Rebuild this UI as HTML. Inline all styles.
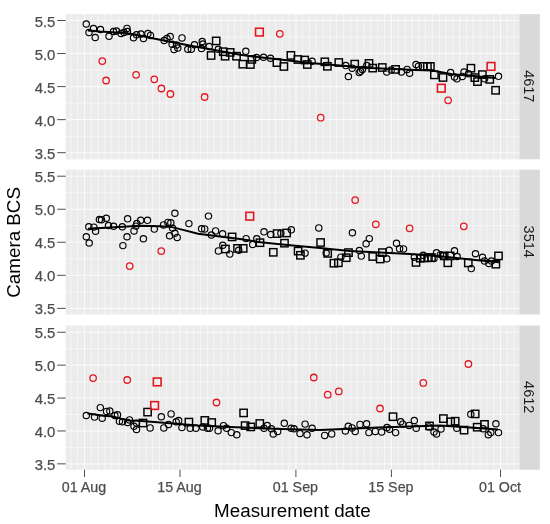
<!DOCTYPE html>
<html><head><meta charset="utf-8"><title>Camera BCS</title>
<style>html,body{margin:0;padding:0;background:#fff}svg{display:block}text{font-family:"Liberation Sans",Arial,sans-serif}</style></head>
<body>
<svg width="550" height="524" viewBox="0 0 550 524">
<rect width="550" height="524" fill="#fff"/>
<g>
<rect x="65.7" y="14.1" width="453.7" height="145.2" fill="#ebebeb"/>
<path d="M70.86 14.1V159.3M77.68 14.1V159.3M91.32 14.1V159.3M98.14 14.1V159.3M104.96 14.1V159.3M111.78 14.1V159.3M118.60 14.1V159.3M125.42 14.1V159.3M132.24 14.1V159.3M139.06 14.1V159.3M145.88 14.1V159.3M152.70 14.1V159.3M159.52 14.1V159.3M166.34 14.1V159.3M173.16 14.1V159.3M186.80 14.1V159.3M193.62 14.1V159.3M200.44 14.1V159.3M207.26 14.1V159.3M214.08 14.1V159.3M220.90 14.1V159.3M227.72 14.1V159.3M234.54 14.1V159.3M241.36 14.1V159.3M248.18 14.1V159.3M255.00 14.1V159.3M261.82 14.1V159.3M268.64 14.1V159.3M275.46 14.1V159.3M282.28 14.1V159.3M289.10 14.1V159.3M302.74 14.1V159.3M309.56 14.1V159.3M316.38 14.1V159.3M323.20 14.1V159.3M330.02 14.1V159.3M336.84 14.1V159.3M343.66 14.1V159.3M350.48 14.1V159.3M357.30 14.1V159.3M364.12 14.1V159.3M370.94 14.1V159.3M377.76 14.1V159.3M384.58 14.1V159.3M398.22 14.1V159.3M405.04 14.1V159.3M411.86 14.1V159.3M418.68 14.1V159.3M425.50 14.1V159.3M432.32 14.1V159.3M439.14 14.1V159.3M445.96 14.1V159.3M452.78 14.1V159.3M459.60 14.1V159.3M466.42 14.1V159.3M473.24 14.1V159.3M480.06 14.1V159.3M486.88 14.1V159.3M493.70 14.1V159.3M507.34 14.1V159.3M514.16 14.1V159.3M65.7 37.02H519.4M65.7 70.07H519.4M65.7 103.12H519.4M65.7 136.17H519.4" stroke="#fff" stroke-width="0.9" stroke-opacity="0.6" fill="none"/>
<path d="M84.50 14.1V159.3M179.98 14.1V159.3M295.92 14.1V159.3M391.40 14.1V159.3M500.52 14.1V159.3M65.7 20.50H519.4M65.7 53.55H519.4M65.7 86.60H519.4M65.7 119.65H519.4M65.7 152.70H519.4" stroke="#fff" stroke-width="1.1" stroke-opacity="0.72" fill="none"/>
<g fill="none" stroke="#000" stroke-width="1.15"><circle cx="86.3" cy="24.0" r="3.15"/><circle cx="89.0" cy="32.5" r="3.15"/><circle cx="93.5" cy="28.5" r="3.15"/><circle cx="95.2" cy="37.5" r="3.15"/><circle cx="100.5" cy="29.5" r="3.15"/><circle cx="109.0" cy="36.3" r="3.15"/><circle cx="113.5" cy="31.5" r="3.15"/><circle cx="116.5" cy="31.0" r="3.15"/><circle cx="121.0" cy="33.5" r="3.15"/><circle cx="124.0" cy="32.5" r="3.15"/><circle cx="127.0" cy="28.4" r="3.15"/><circle cx="127.4" cy="31.5" r="3.15"/><circle cx="133.5" cy="37.8" r="3.15"/><circle cx="136.5" cy="34.7" r="3.15"/><circle cx="140.9" cy="34.1" r="3.15"/><circle cx="143.5" cy="38.5" r="3.15"/><circle cx="147.9" cy="33.6" r="3.15"/><circle cx="150.5" cy="35.4" r="3.15"/><circle cx="164.2" cy="40.5" r="3.15"/><circle cx="167.0" cy="38.5" r="3.15"/><circle cx="170.2" cy="36.6" r="3.15"/><circle cx="172.1" cy="44.3" r="3.15"/><circle cx="174.0" cy="49.4" r="3.15"/><circle cx="176.5" cy="44.9" r="3.15"/><circle cx="177.8" cy="48.1" r="3.15"/><circle cx="182.0" cy="37.9" r="3.15"/><circle cx="187.8" cy="49.3" r="3.15"/><circle cx="191.3" cy="49.3" r="3.15"/><circle cx="194.5" cy="44.8" r="3.15"/><circle cx="202.2" cy="41.5" r="3.15"/><circle cx="201.5" cy="48.5" r="3.15"/><circle cx="202.8" cy="44.0" r="3.15"/><circle cx="209.2" cy="46.6" r="3.15"/><circle cx="218.3" cy="49.2" r="3.15"/><circle cx="245.8" cy="51.3" r="3.15"/><circle cx="256.5" cy="57.5" r="3.15"/><circle cx="263.5" cy="57.2" r="3.15"/><circle cx="270.5" cy="58.2" r="3.15"/><circle cx="312.1" cy="61.2" r="3.15"/><circle cx="345.8" cy="65.6" r="3.15"/><circle cx="348.4" cy="76.5" r="3.15"/><circle cx="352.2" cy="68.2" r="3.15"/><circle cx="359.2" cy="72.6" r="3.15"/><circle cx="362.4" cy="69.5" r="3.15"/><circle cx="366.8" cy="65.6" r="3.15"/><circle cx="360.6" cy="71.3" r="3.15"/><circle cx="386.7" cy="71.9" r="3.15"/><circle cx="391.2" cy="70.0" r="3.15"/><circle cx="401.4" cy="71.9" r="3.15"/><circle cx="407.1" cy="69.4" r="3.15"/><circle cx="409.6" cy="73.2" r="3.15"/><circle cx="416.0" cy="64.5" r="3.15"/><circle cx="418.5" cy="66.2" r="3.15"/><circle cx="450.6" cy="72.5" r="3.15"/><circle cx="454.5" cy="76.9" r="3.15"/><circle cx="457.0" cy="78.8" r="3.15"/><circle cx="462.3" cy="76.4" r="3.15"/><circle cx="464.0" cy="72.0" r="3.15"/><circle cx="468.5" cy="73.7" r="3.15"/><circle cx="484.6" cy="78.8" r="3.15"/><circle cx="498.5" cy="76.3" r="3.15"/></g><g fill="none" stroke="#000" stroke-width="1.45"><rect x="212.55" y="37.25" width="7.3" height="7.3"/><rect x="207.45" y="51.85" width="7.3" height="7.3"/><rect x="219.55" y="48.05" width="7.3" height="7.3"/><rect x="221.45" y="52.55" width="7.3" height="7.3"/><rect x="226.55" y="48.75" width="7.3" height="7.3"/><rect x="232.85" y="52.55" width="7.3" height="7.3"/><rect x="239.15" y="60.55" width="7.3" height="7.3"/><rect x="246.75" y="60.85" width="7.3" height="7.3"/><rect x="248.15" y="55.75" width="7.3" height="7.3"/><rect x="273.25" y="58.95" width="7.3" height="7.3"/><rect x="280.25" y="62.85" width="7.3" height="7.3"/><rect x="287.25" y="51.75" width="7.3" height="7.3"/><rect x="294.25" y="55.85" width="7.3" height="7.3"/><rect x="301.05" y="56.35" width="7.3" height="7.3"/><rect x="303.65" y="60.85" width="7.3" height="7.3"/><rect x="321.15" y="58.15" width="7.3" height="7.3"/><rect x="323.75" y="62.65" width="7.3" height="7.3"/><rect x="335.15" y="58.85" width="7.3" height="7.3"/><rect x="351.05" y="60.45" width="7.3" height="7.3"/><rect x="365.35" y="59.75" width="7.3" height="7.3"/><rect x="369.05" y="64.45" width="7.3" height="7.3"/><rect x="378.65" y="63.85" width="7.3" height="7.3"/><rect x="391.95" y="65.75" width="7.3" height="7.3"/><rect x="419.75" y="62.75" width="7.3" height="7.3"/><rect x="423.75" y="62.75" width="7.3" height="7.3"/><rect x="426.75" y="62.75" width="7.3" height="7.3"/><rect x="430.75" y="71.25" width="7.3" height="7.3"/><rect x="439.35" y="73.85" width="7.3" height="7.3"/><rect x="467.25" y="64.55" width="7.3" height="7.3"/><rect x="471.15" y="73.95" width="7.3" height="7.3"/><rect x="473.85" y="77.95" width="7.3" height="7.3"/><rect x="478.75" y="70.95" width="7.3" height="7.3"/><rect x="486.15" y="75.75" width="7.3" height="7.3"/><rect x="491.95" y="86.65" width="7.3" height="7.3"/></g>
<g fill="none" stroke="#e3171f" stroke-width="1.2799999999999998"><circle cx="102.3" cy="61.1" r="3.25"/><circle cx="106.1" cy="80.5" r="3.25"/><circle cx="136.1" cy="74.8" r="3.25"/><circle cx="154.3" cy="79.3" r="3.25"/><circle cx="161.4" cy="88.5" r="3.25"/><circle cx="170.4" cy="94.0" r="3.25"/><circle cx="204.6" cy="97.0" r="3.25"/><circle cx="279.8" cy="33.8" r="3.25"/><circle cx="320.7" cy="117.7" r="3.25"/><circle cx="448.1" cy="100.3" r="3.25"/></g><g fill="none" stroke="#e3171f" stroke-width="1.5999999999999999"><rect x="255.55" y="28.25" width="7.7" height="7.7"/><rect x="437.45" y="84.35" width="7.7" height="7.7"/><rect x="487.15" y="62.55" width="7.7" height="7.7"/></g>
<polyline fill="none" stroke="#000" stroke-width="2.0" stroke-linejoin="round" points="88,30.5 100,31.5 125,33.0 135,34.6 150,37.8 170,41.8 195,46.5 220,51 240,54.8 255,56.8 280,59.6 310,63 340,65.6 370,68 400,69.3 415,69.9 432,70.4 443,72.6 452,74.3 461,74.9 470,75.6 483,76.9 495.6,78.1"/>
<rect x="519.4" y="14.1" width="20.4" height="145.2" fill="#d9d9d9"/>
<text transform="translate(523.7,86.3) rotate(90)" text-anchor="middle" font-size="14.5" fill="#1a1a1a">4617</text>
<text x="55.4" y="26.5" text-anchor="end" font-size="14.9" fill="#4d4d4d" stroke="#4d4d4d" stroke-width="0.25">5.5</text>
<text x="55.4" y="59.5" text-anchor="end" font-size="14.9" fill="#4d4d4d" stroke="#4d4d4d" stroke-width="0.25">5.0</text>
<text x="55.4" y="92.6" text-anchor="end" font-size="14.9" fill="#4d4d4d" stroke="#4d4d4d" stroke-width="0.25">4.5</text>
<text x="55.4" y="125.6" text-anchor="end" font-size="14.9" fill="#4d4d4d" stroke="#4d4d4d" stroke-width="0.25">4.0</text>
<text x="55.4" y="158.7" text-anchor="end" font-size="14.9" fill="#4d4d4d" stroke="#4d4d4d" stroke-width="0.25">3.5</text>
<path d="M57.2 20.50H65.7M57.2 53.55H65.7M57.2 86.60H65.7M57.2 119.65H65.7M57.2 152.70H65.7" stroke="#3a3a3a" stroke-width="0.9" fill="none"/>
</g>
<g>
<rect x="65.7" y="169.7" width="453.7" height="144.8" fill="#ebebeb"/>
<path d="M70.86 169.7V314.5M77.68 169.7V314.5M91.32 169.7V314.5M98.14 169.7V314.5M104.96 169.7V314.5M111.78 169.7V314.5M118.60 169.7V314.5M125.42 169.7V314.5M132.24 169.7V314.5M139.06 169.7V314.5M145.88 169.7V314.5M152.70 169.7V314.5M159.52 169.7V314.5M166.34 169.7V314.5M173.16 169.7V314.5M186.80 169.7V314.5M193.62 169.7V314.5M200.44 169.7V314.5M207.26 169.7V314.5M214.08 169.7V314.5M220.90 169.7V314.5M227.72 169.7V314.5M234.54 169.7V314.5M241.36 169.7V314.5M248.18 169.7V314.5M255.00 169.7V314.5M261.82 169.7V314.5M268.64 169.7V314.5M275.46 169.7V314.5M282.28 169.7V314.5M289.10 169.7V314.5M302.74 169.7V314.5M309.56 169.7V314.5M316.38 169.7V314.5M323.20 169.7V314.5M330.02 169.7V314.5M336.84 169.7V314.5M343.66 169.7V314.5M350.48 169.7V314.5M357.30 169.7V314.5M364.12 169.7V314.5M370.94 169.7V314.5M377.76 169.7V314.5M384.58 169.7V314.5M398.22 169.7V314.5M405.04 169.7V314.5M411.86 169.7V314.5M418.68 169.7V314.5M425.50 169.7V314.5M432.32 169.7V314.5M439.14 169.7V314.5M445.96 169.7V314.5M452.78 169.7V314.5M459.60 169.7V314.5M466.42 169.7V314.5M473.24 169.7V314.5M480.06 169.7V314.5M486.88 169.7V314.5M493.70 169.7V314.5M507.34 169.7V314.5M514.16 169.7V314.5M65.7 192.72H519.4M65.7 225.76H519.4M65.7 258.80H519.4M65.7 291.84H519.4" stroke="#fff" stroke-width="0.9" stroke-opacity="0.6" fill="none"/>
<path d="M84.50 169.7V314.5M179.98 169.7V314.5M295.92 169.7V314.5M391.40 169.7V314.5M500.52 169.7V314.5M65.7 176.20H519.4M65.7 209.24H519.4M65.7 242.28H519.4M65.7 275.32H519.4M65.7 308.36H519.4" stroke="#fff" stroke-width="1.1" stroke-opacity="0.72" fill="none"/>
<g fill="none" stroke="#000" stroke-width="1.15"><circle cx="88.8" cy="226.7" r="3.15"/><circle cx="86.3" cy="236.7" r="3.15"/><circle cx="89.2" cy="243.0" r="3.15"/><circle cx="93.9" cy="227.1" r="3.15"/><circle cx="95.6" cy="231.2" r="3.15"/><circle cx="99.4" cy="219.5" r="3.15"/><circle cx="101.5" cy="219.7" r="3.15"/><circle cx="106.3" cy="218.2" r="3.15"/><circle cx="108.5" cy="225.5" r="3.15"/><circle cx="113.6" cy="226.3" r="3.15"/><circle cx="122.3" cy="226.7" r="3.15"/><circle cx="122.9" cy="245.6" r="3.15"/><circle cx="127.0" cy="236.7" r="3.15"/><circle cx="127.6" cy="218.8" r="3.15"/><circle cx="134.0" cy="230.9" r="3.15"/><circle cx="135.9" cy="226.1" r="3.15"/><circle cx="136.8" cy="223.5" r="3.15"/><circle cx="140.7" cy="220.3" r="3.15"/><circle cx="143.4" cy="238.7" r="3.15"/><circle cx="147.5" cy="220.3" r="3.15"/><circle cx="154.3" cy="229.1" r="3.15"/><circle cx="163.5" cy="224.9" r="3.15"/><circle cx="167.9" cy="222.4" r="3.15"/><circle cx="170.8" cy="222.7" r="3.15"/><circle cx="172.6" cy="228.1" r="3.15"/><circle cx="169.6" cy="235.7" r="3.15"/><circle cx="174.9" cy="233.2" r="3.15"/><circle cx="177.2" cy="237.4" r="3.15"/><circle cx="174.9" cy="213.2" r="3.15"/><circle cx="188.9" cy="223.6" r="3.15"/><circle cx="201.6" cy="228.7" r="3.15"/><circle cx="204.7" cy="228.9" r="3.15"/><circle cx="208.5" cy="216.1" r="3.15"/><circle cx="211.4" cy="235.0" r="3.15"/><circle cx="215.6" cy="230.9" r="3.15"/><circle cx="222.6" cy="233.7" r="3.15"/><circle cx="222.8" cy="245.2" r="3.15"/><circle cx="218.4" cy="250.9" r="3.15"/><circle cx="229.8" cy="254.1" r="3.15"/><circle cx="238.7" cy="250.3" r="3.15"/><circle cx="246.1" cy="238.6" r="3.15"/><circle cx="252.7" cy="244.5" r="3.15"/><circle cx="256.8" cy="238.8" r="3.15"/><circle cx="264.0" cy="231.8" r="3.15"/><circle cx="270.7" cy="234.5" r="3.15"/><circle cx="280.9" cy="233.3" r="3.15"/><circle cx="291.3" cy="229.8" r="3.15"/><circle cx="318.8" cy="227.9" r="3.15"/><circle cx="305.1" cy="253.1" r="3.15"/><circle cx="326.2" cy="253.0" r="3.15"/><circle cx="352.4" cy="232.7" r="3.15"/><circle cx="369.3" cy="238.6" r="3.15"/><circle cx="366.1" cy="243.7" r="3.15"/><circle cx="359.4" cy="250.5" r="3.15"/><circle cx="361.3" cy="256.1" r="3.15"/><circle cx="340.9" cy="257.1" r="3.15"/><circle cx="386.8" cy="258.7" r="3.15"/><circle cx="396.5" cy="243.2" r="3.15"/><circle cx="399.6" cy="248.7" r="3.15"/><circle cx="403.5" cy="248.9" r="3.15"/><circle cx="389.2" cy="250.2" r="3.15"/><circle cx="414.3" cy="257.2" r="3.15"/><circle cx="423.2" cy="255.3" r="3.15"/><circle cx="436.5" cy="252.7" r="3.15"/><circle cx="434.0" cy="258.5" r="3.15"/><circle cx="440.4" cy="254.6" r="3.15"/><circle cx="454.5" cy="250.8" r="3.15"/><circle cx="457.1" cy="256.5" r="3.15"/><circle cx="443.1" cy="255.9" r="3.15"/><circle cx="475.5" cy="253.7" r="3.15"/><circle cx="482.5" cy="257.2" r="3.15"/><circle cx="484.5" cy="261.0" r="3.15"/><circle cx="488.9" cy="263.5" r="3.15"/><circle cx="471.3" cy="268.6" r="3.15"/><circle cx="491.5" cy="261.0" r="3.15"/></g><g fill="none" stroke="#000" stroke-width="1.45"><rect x="228.45" y="233.25" width="7.3" height="7.3"/><rect x="221.75" y="245.35" width="7.3" height="7.3"/><rect x="233.85" y="244.75" width="7.3" height="7.3"/><rect x="239.55" y="244.75" width="7.3" height="7.3"/><rect x="256.35" y="239.05" width="7.3" height="7.3"/><rect x="273.45" y="229.95" width="7.3" height="7.3"/><rect x="282.95" y="229.35" width="7.3" height="7.3"/><rect x="280.85" y="239.55" width="7.3" height="7.3"/><rect x="269.65" y="248.65" width="7.3" height="7.3"/><rect x="294.45" y="247.45" width="7.3" height="7.3"/><rect x="296.75" y="251.65" width="7.3" height="7.3"/><rect x="316.95" y="238.85" width="7.3" height="7.3"/><rect x="324.05" y="249.75" width="7.3" height="7.3"/><rect x="330.25" y="259.55" width="7.3" height="7.3"/><rect x="334.75" y="259.15" width="7.3" height="7.3"/><rect x="344.85" y="248.95" width="7.3" height="7.3"/><rect x="342.65" y="254.05" width="7.3" height="7.3"/><rect x="369.05" y="252.85" width="7.3" height="7.3"/><rect x="376.55" y="255.35" width="7.3" height="7.3"/><rect x="378.75" y="248.95" width="7.3" height="7.3"/><rect x="412.35" y="258.75" width="7.3" height="7.3"/><rect x="416.65" y="254.55" width="7.3" height="7.3"/><rect x="420.75" y="254.25" width="7.3" height="7.3"/><rect x="424.75" y="254.15" width="7.3" height="7.3"/><rect x="427.85" y="253.95" width="7.3" height="7.3"/><rect x="440.55" y="252.25" width="7.3" height="7.3"/><rect x="444.15" y="259.15" width="7.3" height="7.3"/><rect x="446.45" y="252.25" width="7.3" height="7.3"/><rect x="464.65" y="259.25" width="7.3" height="7.3"/><rect x="494.85" y="252.25" width="7.3" height="7.3"/><rect x="492.25" y="260.55" width="7.3" height="7.3"/></g>
<g fill="none" stroke="#e3171f" stroke-width="1.2799999999999998"><circle cx="129.7" cy="266.1" r="3.25"/><circle cx="161.3" cy="251.1" r="3.25"/><circle cx="355.2" cy="200.1" r="3.25"/><circle cx="375.8" cy="224.3" r="3.25"/><circle cx="409.6" cy="228.3" r="3.25"/><circle cx="463.8" cy="226.3" r="3.25"/></g><g fill="none" stroke="#e3171f" stroke-width="1.5999999999999999"><rect x="245.95" y="212.35" width="7.7" height="7.7"/></g>
<polyline fill="none" stroke="#000" stroke-width="2.0" stroke-linejoin="round" points="88,228.8 110,227.5 140,225.8 160,226.3 171,226.9 185,230.4 198,233.7 220,236.4 240,239 258,241.9 290,245.2 320,247.9 350,251.0 380,252.5 410,253.9 440,256.3 470,259.5 499,262.3"/>
<rect x="519.4" y="169.7" width="20.4" height="144.8" fill="#d9d9d9"/>
<text transform="translate(523.7,241.7) rotate(90)" text-anchor="middle" font-size="14.5" fill="#1a1a1a">3514</text>
<text x="55.4" y="182.2" text-anchor="end" font-size="14.9" fill="#4d4d4d" stroke="#4d4d4d" stroke-width="0.25">5.5</text>
<text x="55.4" y="215.2" text-anchor="end" font-size="14.9" fill="#4d4d4d" stroke="#4d4d4d" stroke-width="0.25">5.0</text>
<text x="55.4" y="248.3" text-anchor="end" font-size="14.9" fill="#4d4d4d" stroke="#4d4d4d" stroke-width="0.25">4.5</text>
<text x="55.4" y="281.3" text-anchor="end" font-size="14.9" fill="#4d4d4d" stroke="#4d4d4d" stroke-width="0.25">4.0</text>
<text x="55.4" y="314.4" text-anchor="end" font-size="14.9" fill="#4d4d4d" stroke="#4d4d4d" stroke-width="0.25">3.5</text>
<path d="M57.2 176.20H65.7M57.2 209.24H65.7M57.2 242.28H65.7M57.2 275.32H65.7M57.2 308.36H65.7" stroke="#3a3a3a" stroke-width="0.9" fill="none"/>
</g>
<g>
<rect x="65.7" y="325.5" width="453.7" height="144.2" fill="#ebebeb"/>
<path d="M70.86 325.5V469.7M77.68 325.5V469.7M91.32 325.5V469.7M98.14 325.5V469.7M104.96 325.5V469.7M111.78 325.5V469.7M118.60 325.5V469.7M125.42 325.5V469.7M132.24 325.5V469.7M139.06 325.5V469.7M145.88 325.5V469.7M152.70 325.5V469.7M159.52 325.5V469.7M166.34 325.5V469.7M173.16 325.5V469.7M186.80 325.5V469.7M193.62 325.5V469.7M200.44 325.5V469.7M207.26 325.5V469.7M214.08 325.5V469.7M220.90 325.5V469.7M227.72 325.5V469.7M234.54 325.5V469.7M241.36 325.5V469.7M248.18 325.5V469.7M255.00 325.5V469.7M261.82 325.5V469.7M268.64 325.5V469.7M275.46 325.5V469.7M282.28 325.5V469.7M289.10 325.5V469.7M302.74 325.5V469.7M309.56 325.5V469.7M316.38 325.5V469.7M323.20 325.5V469.7M330.02 325.5V469.7M336.84 325.5V469.7M343.66 325.5V469.7M350.48 325.5V469.7M357.30 325.5V469.7M364.12 325.5V469.7M370.94 325.5V469.7M377.76 325.5V469.7M384.58 325.5V469.7M398.22 325.5V469.7M405.04 325.5V469.7M411.86 325.5V469.7M418.68 325.5V469.7M425.50 325.5V469.7M432.32 325.5V469.7M439.14 325.5V469.7M445.96 325.5V469.7M452.78 325.5V469.7M459.60 325.5V469.7M466.42 325.5V469.7M473.24 325.5V469.7M480.06 325.5V469.7M486.88 325.5V469.7M493.70 325.5V469.7M507.34 325.5V469.7M514.16 325.5V469.7M65.7 348.70H519.4M65.7 381.60H519.4M65.7 414.50H519.4M65.7 447.40H519.4" stroke="#fff" stroke-width="0.9" stroke-opacity="0.6" fill="none"/>
<path d="M84.50 325.5V469.7M179.98 325.5V469.7M295.92 325.5V469.7M391.40 325.5V469.7M500.52 325.5V469.7M65.7 332.25H519.4M65.7 365.15H519.4M65.7 398.05H519.4M65.7 430.95H519.4M65.7 463.85H519.4" stroke="#fff" stroke-width="1.1" stroke-opacity="0.72" fill="none"/>
<g fill="none" stroke="#000" stroke-width="1.15"><circle cx="86.3" cy="415.5" r="3.15"/><circle cx="94.5" cy="417.1" r="3.15"/><circle cx="102.2" cy="418.3" r="3.15"/><circle cx="100.3" cy="407.6" r="3.15"/><circle cx="106.6" cy="411.4" r="3.15"/><circle cx="109.8" cy="411.0" r="3.15"/><circle cx="114.9" cy="415.5" r="3.15"/><circle cx="117.5" cy="414.8" r="3.15"/><circle cx="119.4" cy="421.2" r="3.15"/><circle cx="122.5" cy="421.8" r="3.15"/><circle cx="127.6" cy="422.5" r="3.15"/><circle cx="129.5" cy="419.9" r="3.15"/><circle cx="134.0" cy="426.3" r="3.15"/><circle cx="136.5" cy="429.5" r="3.15"/><circle cx="136.5" cy="423.1" r="3.15"/><circle cx="161.3" cy="416.7" r="3.15"/><circle cx="171.1" cy="413.9" r="3.15"/><circle cx="150.1" cy="427.9" r="3.15"/><circle cx="163.8" cy="427.9" r="3.15"/><circle cx="168.5" cy="424.4" r="3.15"/><circle cx="176.2" cy="421.8" r="3.15"/><circle cx="178.7" cy="420.5" r="3.15"/><circle cx="181.9" cy="427.5" r="3.15"/><circle cx="190.2" cy="428.2" r="3.15"/><circle cx="195.9" cy="428.2" r="3.15"/><circle cx="202.7" cy="426.9" r="3.15"/><circle cx="207.4" cy="428.2" r="3.15"/><circle cx="209.5" cy="428.2" r="3.15"/><circle cx="218.1" cy="430.7" r="3.15"/><circle cx="223.5" cy="425.6" r="3.15"/><circle cx="226.6" cy="428.2" r="3.15"/><circle cx="231.3" cy="432.6" r="3.15"/><circle cx="236.8" cy="434.8" r="3.15"/><circle cx="264.0" cy="428.2" r="3.15"/><circle cx="267.2" cy="425.5" r="3.15"/><circle cx="271.4" cy="428.8" r="3.15"/><circle cx="273.3" cy="433.9" r="3.15"/><circle cx="277.7" cy="431.4" r="3.15"/><circle cx="284.3" cy="423.3" r="3.15"/><circle cx="291.1" cy="428.2" r="3.15"/><circle cx="294.0" cy="428.8" r="3.15"/><circle cx="300.0" cy="433.5" r="3.15"/><circle cx="305.1" cy="424.1" r="3.15"/><circle cx="307.0" cy="434.8" r="3.15"/><circle cx="312.1" cy="428.2" r="3.15"/><circle cx="324.7" cy="435.4" r="3.15"/><circle cx="331.7" cy="433.9" r="3.15"/><circle cx="345.4" cy="431.0" r="3.15"/><circle cx="348.3" cy="426.3" r="3.15"/><circle cx="352.1" cy="427.9" r="3.15"/><circle cx="355.2" cy="431.4" r="3.15"/><circle cx="360.0" cy="424.4" r="3.15"/><circle cx="366.6" cy="423.7" r="3.15"/><circle cx="368.9" cy="432.6" r="3.15"/><circle cx="375.3" cy="431.4" r="3.15"/><circle cx="381.6" cy="432.0" r="3.15"/><circle cx="387.0" cy="427.5" r="3.15"/><circle cx="389.5" cy="429.2" r="3.15"/><circle cx="395.6" cy="432.6" r="3.15"/><circle cx="400.7" cy="421.8" r="3.15"/><circle cx="402.8" cy="424.1" r="3.15"/><circle cx="409.2" cy="425.4" r="3.15"/><circle cx="414.3" cy="420.5" r="3.15"/><circle cx="416.2" cy="428.2" r="3.15"/><circle cx="428.9" cy="426.9" r="3.15"/><circle cx="434.0" cy="432.0" r="3.15"/><circle cx="436.5" cy="433.9" r="3.15"/><circle cx="441.0" cy="429.0" r="3.15"/><circle cx="456.8" cy="428.2" r="3.15"/><circle cx="470.8" cy="414.2" r="3.15"/><circle cx="495.9" cy="423.7" r="3.15"/><circle cx="498.5" cy="432.6" r="3.15"/><circle cx="488.3" cy="434.8" r="3.15"/><circle cx="490.8" cy="432.6" r="3.15"/><circle cx="483.2" cy="428.8" r="3.15"/></g><g fill="none" stroke="#000" stroke-width="1.45"><rect x="143.95" y="408.45" width="7.3" height="7.3"/><rect x="139.35" y="419.35" width="7.3" height="7.3"/><rect x="185.25" y="418.45" width="7.3" height="7.3"/><rect x="201.15" y="416.75" width="7.3" height="7.3"/><rect x="208.05" y="418.85" width="7.3" height="7.3"/><rect x="239.95" y="409.25" width="7.3" height="7.3"/><rect x="241.45" y="421.95" width="7.3" height="7.3"/><rect x="247.15" y="423.25" width="7.3" height="7.3"/><rect x="256.15" y="419.85" width="7.3" height="7.3"/><rect x="389.35" y="413.05" width="7.3" height="7.3"/><rect x="425.85" y="422.25" width="7.3" height="7.3"/><rect x="439.75" y="414.95" width="7.3" height="7.3"/><rect x="447.05" y="418.15" width="7.3" height="7.3"/><rect x="451.55" y="417.55" width="7.3" height="7.3"/><rect x="460.45" y="426.45" width="7.3" height="7.3"/><rect x="471.55" y="410.25" width="7.3" height="7.3"/><rect x="473.55" y="423.55" width="7.3" height="7.3"/><rect x="480.85" y="420.75" width="7.3" height="7.3"/></g>
<g fill="none" stroke="#e3171f" stroke-width="1.2799999999999998"><circle cx="93.1" cy="378.1" r="3.25"/><circle cx="127.2" cy="380.0" r="3.25"/><circle cx="216.5" cy="402.5" r="3.25"/><circle cx="313.8" cy="377.5" r="3.25"/><circle cx="327.7" cy="394.7" r="3.25"/><circle cx="338.8" cy="391.4" r="3.25"/><circle cx="380.0" cy="408.5" r="3.25"/><circle cx="423.3" cy="382.9" r="3.25"/><circle cx="468.4" cy="364.0" r="3.25"/></g><g fill="none" stroke="#e3171f" stroke-width="1.5999999999999999"><rect x="153.35" y="378.05" width="7.7" height="7.7"/><rect x="150.75" y="401.65" width="7.7" height="7.7"/></g>
<polyline fill="none" stroke="#000" stroke-width="2.0" stroke-linejoin="round" points="87.5,413.4 95,414.6 103,415.7 111,416.2 120,418.4 129,420.5 138,420.7 148,421.5 170,423.2 198,425.6 230,426.9 258,428.2 290,429.2 320,429.9 350,428.7 378,427.5 410,426.5 440,425.6 470,427.5 498,429.5"/>
<rect x="519.4" y="325.5" width="20.4" height="144.2" fill="#d9d9d9"/>
<text transform="translate(523.7,397.2) rotate(90)" text-anchor="middle" font-size="14.5" fill="#1a1a1a">4612</text>
<text x="55.4" y="338.2" text-anchor="end" font-size="14.9" fill="#4d4d4d" stroke="#4d4d4d" stroke-width="0.25">5.5</text>
<text x="55.4" y="371.1" text-anchor="end" font-size="14.9" fill="#4d4d4d" stroke="#4d4d4d" stroke-width="0.25">5.0</text>
<text x="55.4" y="404.1" text-anchor="end" font-size="14.9" fill="#4d4d4d" stroke="#4d4d4d" stroke-width="0.25">4.5</text>
<text x="55.4" y="436.9" text-anchor="end" font-size="14.9" fill="#4d4d4d" stroke="#4d4d4d" stroke-width="0.25">4.0</text>
<text x="55.4" y="469.9" text-anchor="end" font-size="14.9" fill="#4d4d4d" stroke="#4d4d4d" stroke-width="0.25">3.5</text>
<path d="M57.2 332.25H65.7M57.2 365.15H65.7M57.2 398.05H65.7M57.2 430.95H65.7M57.2 463.85H65.7" stroke="#3a3a3a" stroke-width="0.9" fill="none"/>
</g>
<path d="M84.50 469.7V477.0M179.98 469.7V477.0M295.92 469.7V477.0M391.40 469.7V477.0M500.52 469.7V477.0" stroke="#3a3a3a" stroke-width="0.9" fill="none"/>
<text x="84.0" y="491.6" text-anchor="middle" font-size="14.25" fill="#4d4d4d" stroke="#4d4d4d" stroke-width="0.25">01 Aug</text>
<text x="179.5" y="491.6" text-anchor="middle" font-size="14.25" fill="#4d4d4d" stroke="#4d4d4d" stroke-width="0.25">15 Aug</text>
<text x="295.4" y="491.6" text-anchor="middle" font-size="14.25" fill="#4d4d4d" stroke="#4d4d4d" stroke-width="0.25">01 Sep</text>
<text x="390.9" y="491.6" text-anchor="middle" font-size="14.25" fill="#4d4d4d" stroke="#4d4d4d" stroke-width="0.25">15 Sep</text>
<text x="500.0" y="491.6" text-anchor="middle" font-size="14.25" fill="#4d4d4d" stroke="#4d4d4d" stroke-width="0.25">01 Oct</text>
<text x="292.4" y="516.7" text-anchor="middle" font-size="18.8" fill="#000">Measurement date</text>
<text transform="translate(19.6,242.4) rotate(-90)" text-anchor="middle" font-size="18.8" fill="#000">Camera BCS</text>
</svg>
</body></html>
